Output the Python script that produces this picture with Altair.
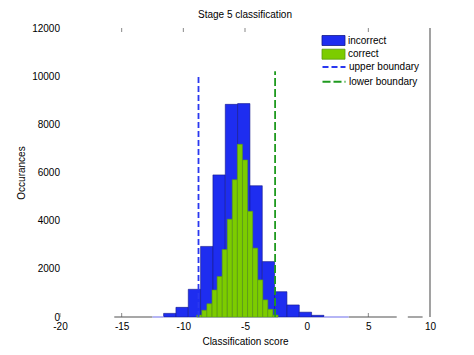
import altair as alt
import pandas as pd

FONT = "Liberation Sans"

# axis ticks
x_ticks = [-20, -15, -10, -5, 0, 5, 10]
y_ticks = [0, 2000, 4000, 6000, 8000, 10000, 12000]
top_ticks = [-15, -10, -5, 5]
bottom_ticks = [-20, -15, 5]

# histogram of incorrect classifications (bin left edge, count)
incorrect_left = [-11.6, -10.6, -9.6, -8.6, -7.6, -6.6, -5.6, -4.6, -3.6, -2.6, -1.6, -0.6, 0.4]
incorrect_count = [150, 400, 1150, 2930, 5900, 8830, 8860, 5450, 2300, 1050, 500, 200, 70]
incorrect_width = 1.0

# histogram of correct classifications (bin left edge, count)
correct_left = [-8.91, -8.50, -8.09, -7.67, -7.26, -6.85, -6.44, -6.03,
                -5.62, -5.20, -4.79, -4.38, -3.97, -3.56, -3.15, -2.73]
correct_count = [80, 280, 550, 1120, 1680, 2800, 4060, 5700,
                 7170, 6520, 4390, 2860, 1540, 710, 320, 80]
correct_width = 0.41

# decision boundaries
boundary_names = ["upper boundary", "lower boundary"]
boundary_x = [-8.77, -2.56]
boundary_top = [10000, 10200]

# baseline pieces (grey) and near-empty bins (faint)
baseline_start = [-15.6, 3.4, 8.2]
baseline_end = [-12.5, 7.3, 9.4]
faint_start = [-12.5, 1.4]
faint_end = [-11.6, 3.4]

BLUE = "#1e2df0"
GREEN = "#7ccc00"
X_MIN, X_MAX = min(x_ticks), max(x_ticks)
Y_MIN, Y_MAX = min(y_ticks), max(y_ticks)

bars = pd.DataFrame({
    "kind": ["incorrect"] * len(incorrect_left) + ["correct"] * len(correct_left),
    "left": incorrect_left + correct_left,
    "right": [v + incorrect_width for v in incorrect_left] + [v + correct_width for v in correct_left],
    "count": incorrect_count + correct_count,
})
bars["y0"] = Y_MIN
bounds = pd.DataFrame({"name": boundary_names, "bx": boundary_x, "top": boundary_top})
bounds["y0"] = Y_MIN
base = pd.DataFrame({"s": baseline_start, "e": baseline_end})
base["y0"] = Y_MIN
faint = pd.DataFrame({"s": faint_start, "e": faint_end})
faint["y0"] = Y_MIN
frame = pd.DataFrame({"x": [X_MAX], "y0": [Y_MIN], "y1": [Y_MAX]})
topt = pd.DataFrame({"x": top_ticks, "y": [Y_MAX] * len(top_ticks)})
bott = pd.DataFrame({"x": bottom_ticks, "y": [Y_MIN] * len(bottom_ticks)})

xs = alt.Scale(domain=[X_MIN, X_MAX], nice=False, zero=False)
ys = alt.Scale(domain=[Y_MIN, Y_MAX], nice=False)

legend_common = dict(orient="none", title=None, labelFont=FONT, labelFontSize=10,
                     labelColor="black", padding=0, labelOffset=9)

hist = alt.Chart(bars).mark_bar(strokeWidth=0.6).encode(
    x=alt.X("left:Q", scale=xs, title="Classification score",
            axis=alt.Axis(orient="bottom", values=x_ticks, labelExpr="toString(datum.value)",
                          domain=False, ticks=False, grid=False, labelPadding=4, titlePadding=5,
                          labelFlush=False, titleFontWeight="normal")),
    x2="right:Q",
    y=alt.Y("count:Q", scale=ys, title="Occurances",
            axis=alt.Axis(orient="left", values=y_ticks, labelExpr="toString(datum.value)",
                          domain=False, ticks=False, grid=False, labelPadding=0.5, titlePadding=5,
                          labelFlush=False, titleFontWeight="normal")),
    y2="y0:Q",
    color=alt.Color("kind:N",
                    scale=alt.Scale(domain=["incorrect", "correct"], range=[BLUE, GREEN]),
                    legend=alt.Legend(legendX=268, legendY=7, rowPadding=-1.3,
                                      symbolType="M-2.3,-1H2.3V1H-2.3Z", symbolSize=100,
                                      symbolStrokeColor="#444444", symbolStrokeWidth=0.8,
                                      **legend_common)),
    stroke=alt.Stroke("kind:N",
                      scale=alt.Scale(domain=["incorrect", "correct"], range=["#12188a", "#5c9a10"]),
                      legend=None),
)

baseline = alt.Chart(base).mark_rule(color="#8a8a8a", strokeWidth=1.5).encode(
    x=alt.X("s:Q", scale=xs, axis=None),
    x2="e:Q",
    y=alt.Y("y0:Q", scale=ys, axis=None),
)

faintline = alt.Chart(faint).mark_rule(color="#9c9cf2", strokeWidth=1.5).encode(
    x=alt.X("s:Q", scale=xs, axis=None),
    x2="e:Q",
    y=alt.Y("y0:Q", scale=ys, axis=None),
)

bottom_tick_marks = alt.Chart(bott).mark_tick(size=4, thickness=1, yOffset=-2, color="#555555").encode(
    x=alt.X("x:Q", scale=xs, axis=None),
    y=alt.Y("y:Q", scale=ys, axis=None),
)

right_frame = alt.Chart(frame).mark_rule(color="#555555", strokeWidth=1.1).encode(
    x=alt.X("x:Q", scale=xs, axis=None),
    y=alt.Y("y0:Q", scale=ys, axis=None),
    y2="y1:Q",
)

top_tick_marks = alt.Chart(topt).mark_tick(size=4, thickness=1, yOffset=2, color="#555555").encode(
    x=alt.X("x:Q", scale=xs, axis=None),
    y=alt.Y("y:Q", scale=ys, axis=None),
)

rule_legend = alt.Legend(legendX=268, legendY=33, rowPadding=3.7,
                         symbolType="M-2.3,0H2.3", symbolSize=100, symbolStrokeWidth=2,
                         **legend_common)

rules = alt.Chart(bounds).mark_rule(strokeWidth=1.8).encode(
    x=alt.X("bx:Q", scale=xs, axis=None),
    y=alt.Y("y0:Q", scale=ys, axis=None),
    y2="top:Q",
    color=alt.Color("name:N",
                    scale=alt.Scale(domain=boundary_names, range=["#2a38f0", "#1f9a1f"]),
                    legend=rule_legend),
    strokeDash=alt.StrokeDash("name:N",
                              scale=alt.Scale(domain=boundary_names, range=[[6, 3], [8, 3]]),
                              legend=rule_legend),
)

chart = alt.layer(
    hist, baseline, faintline, bottom_tick_marks, right_frame, top_tick_marks, rules
).resolve_scale(
    color="independent", stroke="independent", strokeDash="independent"
).resolve_axis(
    x="independent", y="independent"
).properties(
    width=370, height=289,
    background="white",
    title=alt.TitleParams("Stage 5 classification", font=FONT, fontSize=10,
                          fontWeight="normal", color="black", anchor="middle", offset=3),
    autosize=alt.AutoSizeParams(type="none"),
    padding={"left": 60, "top": 28, "right": 44, "bottom": 38},
).configure_view(strokeWidth=0).configure_axis(
    labelFont=FONT, labelFontSize=10, labelColor="black",
    titleFont=FONT, titleFontSize=10, titleFontWeight="normal", titleColor="black",
    domain=False, ticks=False, grid=False,
)

chart.save("out.html", embed_options={"renderer": "svg", "actions": False})
